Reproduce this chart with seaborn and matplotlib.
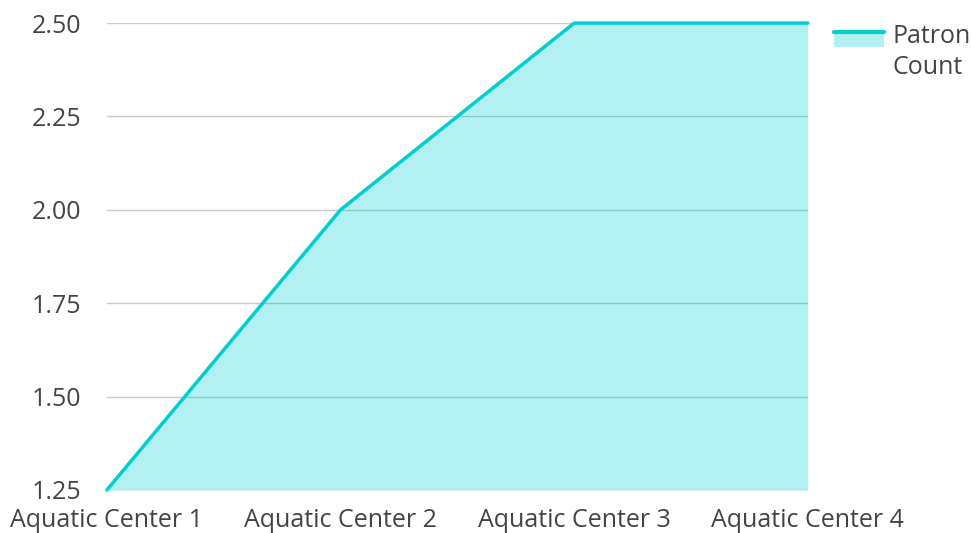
import matplotlib
matplotlib.use('Agg')
import matplotlib.pyplot as plt
import seaborn as sns
import pandas as pd
from matplotlib.legend_handler import HandlerBase
from matplotlib.patches import Rectangle
from matplotlib.lines import Line2D

centers = ['Aquatic Center 1', 'Aquatic Center 2', 'Aquatic Center 3', 'Aquatic Center 4']
patron_count = [1.25, 2.00, 2.50, 2.50]
y_ticks = [1.25, 1.50, 1.75, 2.00, 2.25, 2.50]

line_col = '#00CED1'
text_col = '#444444'

sns.set_style('white')
plt.rcParams['font.family'] = ['Open Sans', 'DejaVu Sans']

df = pd.DataFrame({'center': centers, 'count': patron_count})
df['pos'] = range(len(df))

fig = plt.figure(figsize=(9.72, 5.33), dpi=100)
ax = fig.add_axes([0.110, 0.0807, 0.721, 0.876])

ax.fill_between(df['pos'], df['count'], 1.25, color=line_col, alpha=0.3, lw=0, zorder=2)
sns.lineplot(data=df, x='pos', y='count', color=line_col, lw=2.5, ax=ax, zorder=3)
for l in ax.lines:
    l.set_clip_on(False)

ax.set_xlim(0, 3)
ax.set_ylim(1.25, 2.5)
ax.set_yticks(y_ticks)
ax.set_yticklabels([f'{v:.2f}' for v in y_ticks])
ax.set_xticks(df['pos'])
ax.set_xticklabels(centers)
ax.set_xlabel('')
ax.set_ylabel('')
ax.grid(axis='y', color='#c8c8c8', lw=1)
ax.grid(axis='x', visible=False)
for s in ax.spines.values():
    s.set_visible(False)
ax.tick_params(axis='both', length=0, labelsize=18, colors=text_col)
ax.tick_params(axis='y', pad=18.5)
ax.tick_params(axis='x', pad=13)


class FillLine(HandlerBase):
    def create_artists(self, legend, orig_handle, xdescent, ydescent, width, height, fontsize, trans):
        dy = 9.5
        r = Rectangle((-xdescent, -ydescent + dy), width, height, facecolor=line_col, alpha=0.3,
                      lw=0, transform=trans)
        ln = Line2D([-xdescent, -xdescent + width], [-ydescent + height + dy] * 2, color=line_col,
                    lw=3, transform=trans)
        return [r, ln]


h = Rectangle((0, 0), 1, 1)
leg = fig.legend([h], ['Patron\nCount'], handler_map={Rectangle: FillLine()},
                 loc='upper left', bbox_to_anchor=(0.858, 0.955), frameon=False,
                 fontsize=18, handlelength=2.0, handleheight=0.56, handletextpad=0.36,
                 borderaxespad=0, borderpad=0, labelcolor=text_col)
leg.get_texts()[0].set_linespacing(1.32)

fig.savefig('out.png', dpi=100)
